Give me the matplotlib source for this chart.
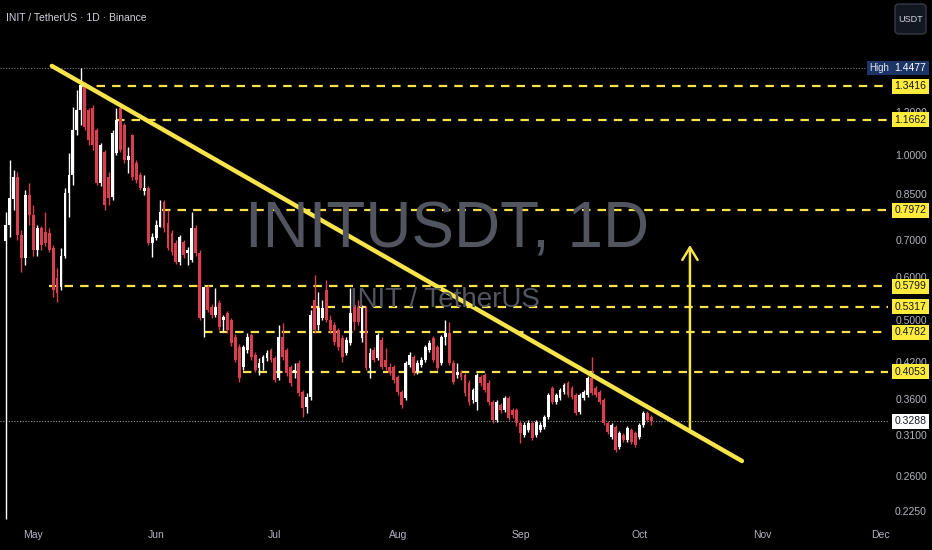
import matplotlib
matplotlib.use("Agg")
import matplotlib.pyplot as plt
import matplotlib.dates as mdates
from matplotlib.patches import Rectangle, FancyBboxPatch
from matplotlib.transforms import IdentityTransform
import numpy as np
import pandas as pd

# daily candles INIT/USDT, first candle on this date
START = "2025-04-24"

opens = [0.700, 0.749, 0.835, 0.917, 0.719, 0.653, 0.850, 0.782, 0.675, 0.740,
         0.728, 0.725, 0.680, 0.600, 0.578, 0.658, 0.857, 0.924, 1.116, 1.214,
         1.348, 1.214, 1.224, 1.116, 0.894, 1.018, 0.917, 0.843, 1.013, 1.224,
         1.140, 0.984, 1.093, 0.972, 0.924, 0.864, 0.875, 0.695, 0.710, 0.743,
         0.825, 0.756, 0.725, 0.695, 0.642, 0.698, 0.666, 0.647, 0.740, 0.666,
         0.5075, 0.578, 0.5315, 0.514, 0.541, 0.503, 0.518, 0.503, 0.4685, 0.449,
         0.4132, 0.444, 0.4725, 0.4345, 0.4115, 0.420, 0.429, 0.4437, 0.429, 0.3945,
         0.4685, 0.4437, 0.413, 0.403, 0.420, 0.372, 0.3494, 0.364, 0.547, 0.4927,
         0.5075, 0.571, 0.503, 0.4927, 0.4825, 0.4665, 0.438, 0.457, 0.536, 0.529,
         0.4665, 0.529, 0.4115, 0.4437, 0.429, 0.4627, 0.425, 0.4132, 0.4132, 0.396,
         0.372, 0.3628, 0.4167, 0.431, 0.4046, 0.4167, 0.4255, 0.4437, 0.4665, 0.449,
         0.420, 0.4685, 0.4765, 0.420, 0.3996, 0.403, 0.3996, 0.3865, 0.3598, 0.3568,
         0.396, 0.3996, 0.3865, 0.3568, 0.3308, 0.3523, 0.345, 0.3628, 0.345, 0.345,
         0.3267, 0.3107, 0.3173, 0.3267, 0.3107, 0.3173, 0.3213, 0.3351, 0.3785, 0.3568,
         0.3628, 0.372, 0.3865, 0.3785, 0.3674, 0.3421, 0.3628, 0.3674, 0.3945, 0.3785,
         0.372, 0.3598, 0.3267, 0.3081, 0.3213, 0.2955, 0.3107, 0.3043, 0.3173, 0.3134,
         0.3081, 0.324, 0.3407, 0.3351]

highs = [0.791, 0.984, 0.944, 0.936, 0.734, 0.868, 0.894, 0.815, 0.749, 0.746,
         0.791, 0.740, 0.689, 0.626, 0.680, 0.875, 1.013, 1.229, 1.320, 1.4477,
         1.365, 1.224, 1.2395, 1.126, 1.057, 1.026, 0.936, 1.116, 1.224, 1.234,
         1.149, 1.040, 1.098, 0.984, 0.936, 0.924, 0.882, 0.725, 0.765, 0.832,
         0.832, 0.798, 0.734, 0.704, 0.719, 0.704, 0.683, 0.791, 0.749, 0.675,
         0.578, 0.583, 0.538, 0.5755, 0.547, 0.514, 0.5225, 0.5075, 0.4745, 0.455,
         0.453, 0.4765, 0.4765, 0.440, 0.429, 0.4345, 0.4437, 0.4474, 0.433, 0.4927,
         0.497, 0.4474, 0.4167, 0.420, 0.4255, 0.375, 0.3705, 0.525, 0.608, 0.566,
         0.547, 0.595, 0.514, 0.499, 0.4866, 0.4725, 0.4685, 0.5755, 0.540, 0.547,
         0.536, 0.5336, 0.4474, 0.449, 0.4765, 0.4685, 0.4474, 0.420, 0.4167, 0.3996,
         0.375, 0.4237, 0.440, 0.4345, 0.4255, 0.431, 0.4531, 0.4627, 0.4705, 0.4531,
         0.4725, 0.503, 0.499, 0.4255, 0.420, 0.408, 0.403, 0.3913, 0.3785, 0.403,
         0.3996, 0.403, 0.3913, 0.3598, 0.3598, 0.3553, 0.3659, 0.3659, 0.348, 0.348,
         0.3308, 0.3281, 0.3308, 0.3294, 0.3308, 0.3281, 0.3379, 0.3705, 0.3816, 0.3705,
         0.3785, 0.3865, 0.3897, 0.3816, 0.3705, 0.3705, 0.3752, 0.398, 0.431, 0.3816,
         0.3752, 0.3628, 0.3294, 0.3267, 0.324, 0.316, 0.3134, 0.3226, 0.320, 0.316,
         0.3267, 0.3436, 0.3436, 0.3379]

lows = [0.218, 0.713, 0.798, 0.704, 0.615, 0.634, 0.749, 0.658, 0.658, 0.675,
        0.686, 0.669, 0.554, 0.543, 0.571, 0.653, 0.775, 0.886, 1.093, 1.140,
        1.116, 1.048, 1.026, 0.886, 0.883, 0.798, 0.815, 0.832, 1.005, 1.018,
        0.972, 0.932, 0.905, 0.894, 0.868, 0.850, 0.689, 0.655, 0.704, 0.743,
        0.728, 0.675, 0.661, 0.637, 0.634, 0.653, 0.634, 0.642, 0.658, 0.503,
        0.4685, 0.520, 0.5075, 0.5096, 0.4825, 0.4785, 0.4765, 0.451, 0.422, 0.388,
        0.408, 0.438, 0.4255, 0.4046, 0.3996, 0.408, 0.4237, 0.422, 0.388, 0.391,
        0.4255, 0.398, 0.3816, 0.3945, 0.3659, 0.3351, 0.3407, 0.360, 0.4765, 0.4825,
        0.503, 0.499, 0.4765, 0.453, 0.4437, 0.422, 0.4345, 0.453, 0.4825, 0.4927,
        0.459, 0.408, 0.3945, 0.422, 0.4255, 0.4097, 0.408, 0.3996, 0.3865, 0.3674,
        0.348, 0.3598, 0.4132, 0.3996, 0.4013, 0.4132, 0.422, 0.440, 0.422, 0.408,
        0.4167, 0.4531, 0.4167, 0.3848, 0.3945, 0.391, 0.3659, 0.3523, 0.3553, 0.345,
        0.3816, 0.372, 0.3523, 0.3267, 0.3281, 0.3407, 0.3421, 0.3308, 0.3337, 0.3226,
        0.3005, 0.3081, 0.3147, 0.3043, 0.3081, 0.3147, 0.3186, 0.3323, 0.3538, 0.3538,
        0.3598, 0.369, 0.3644, 0.3613, 0.3379, 0.3393, 0.3598, 0.3644, 0.3674, 0.3644,
        0.3538, 0.324, 0.312, 0.3056, 0.2894, 0.293, 0.3018, 0.3018, 0.2992, 0.2955,
        0.3056, 0.3213, 0.3281, 0.324]

closes = [0.749, 0.839, 0.917, 0.719, 0.653, 0.850, 0.782, 0.675, 0.740, 0.689,
          0.695, 0.675, 0.571, 0.563, 0.658, 0.857, 0.924, 1.116, 1.214, 1.348,
          1.130, 1.070, 1.048, 0.894, 1.048, 0.815, 0.839, 1.102, 1.164, 1.026,
          0.984, 1.001, 0.917, 0.905, 0.875, 0.875, 0.695, 0.713, 0.749, 0.791,
          0.740, 0.680, 0.669, 0.642, 0.713, 0.661, 0.675, 0.740, 0.666, 0.5075,
          0.578, 0.525, 0.514, 0.531, 0.4885, 0.5096, 0.4825, 0.457, 0.4255, 0.3945,
          0.449, 0.4685, 0.431, 0.408, 0.420, 0.431, 0.438, 0.4255, 0.391, 0.4685,
          0.431, 0.403, 0.3865, 0.408, 0.3705, 0.348, 0.364, 0.514, 0.4825, 0.529,
          0.529, 0.503, 0.4825, 0.459, 0.449, 0.431, 0.4627, 0.518, 0.499, 0.499,
          0.529, 0.4115, 0.438, 0.4255, 0.4725, 0.4132, 0.4132, 0.403, 0.391, 0.372,
          0.3523, 0.420, 0.4345, 0.403, 0.420, 0.4255, 0.449, 0.457, 0.4255, 0.4115,
          0.4685, 0.4765, 0.420, 0.388, 0.4046, 0.396, 0.3705, 0.3568, 0.3752, 0.3996,
          0.3865, 0.3752, 0.3568, 0.3308, 0.3568, 0.345, 0.3628, 0.3337, 0.3379, 0.3267,
          0.3134, 0.324, 0.3267, 0.3068, 0.3281, 0.324, 0.3351, 0.3674, 0.3568, 0.3674,
          0.3752, 0.3832, 0.3674, 0.3644, 0.3407, 0.3674, 0.372, 0.3945, 0.3705, 0.3674,
          0.3568, 0.3267, 0.3147, 0.324, 0.2918, 0.3134, 0.3043, 0.320, 0.3018, 0.2979,
          0.324, 0.3407, 0.3308, 0.3288]

# horizontal levels and the day each dashed line starts
levels = [1.3416, 1.1662, 0.7972, 0.5799, 0.5317, 0.4782, 0.4053]
level_starts = ["2025-05-13", "2025-05-22", "2025-06-02 12:00", "2025-05-05",
                "2025-07-10", "2025-06-13", "2025-06-23"]

# descending trendline (two anchor points) and breakout arrow
trend_dates = ["2025-05-05 16:00", "2025-10-26 22:00"]
trend_prices = [1.46, 0.2786]
arrow_date = "2025-10-13 19:00"
arrow_prices = [0.3173, 0.689]

high_price = 1.4477
last_price = 0.3288
price_ticks = [1.2, 1.0, 0.85, 0.7, 0.6, 0.5, 0.42, 0.36, 0.31, 0.26, 0.225]
months = ["May", "Jun", "Jul", "Aug", "Sep", "Oct", "Nov", "Dec"]
month_dates = ["2025-05-01", "2025-06-01", "2025-07-01", "2025-08-01",
               "2025-09-01", "2025-10-01", "2025-11-01", "2025-12-01"]

UP = "#ffffff"
DOWN = "#d8404f"
YEL = "#f7e34a"
BOX_YEL = "#ffeb3b"
AXIS_TXT = "#b2b5be"
FONT = ["Liberation Sans", "DejaVu Sans"]

fig = plt.figure(figsize=(9.32, 5.5), dpi=100, facecolor="black")
ax = fig.add_axes([0, 28 / 550, 888 / 932, 522 / 550])
ax.set_facecolor("black")
ax.set_yscale("log")

x = mdates.date2num(pd.date_range(START, periods=len(closes), freq="D"))
ax.set_xlim(x[0] - 1.41, x[0] + 222.8)
ax.set_ylim(0.2157, 1.925)
ax.axis("off")

# watermark
fig.text(447 / 932, 1 - 231 / 550, "INITUSDT, 1D", ha="center", va="center",
         fontsize=46, color="#52555f", family=FONT, zorder=0.5)
fig.text(445 / 932, 1 - 300 / 550, "INIT / TetherUS", ha="center", va="center",
         fontsize=20, color="#52555f", family=FONT, zorder=0.5)

# candles
o, h, l, c = map(np.array, (opens, highs, lows, closes))
cols = np.where(c >= o, UP, DOWN)
ax.vlines(x, l, h, colors=cols, lw=1.0, zorder=3)
ax.bar(x, np.abs(c - o), bottom=np.minimum(o, c), width=0.72, color=cols,
       lw=0, zorder=3)

# levels
xmax = ax.get_xlim()[1]
for lvl, d in zip(levels, level_starts):
    ax.plot([mdates.datestr2num(d), xmax], [lvl, lvl], color=YEL, lw=1.6,
            ls=(0, (3.8, 3.2)), zorder=2)

ax.axhline(high_price, xmax=868 / 888, color="#787b86", lw=0.8, ls=(0, (1, 1.5)), zorder=1)
ax.axhline(last_price, color="#9598a1", lw=0.8, ls=(0, (1, 1.5)), zorder=1)

# trendline + arrow
ax.plot(mdates.datestr2num(trend_dates), trend_prices, color=YEL, lw=3.2,
        solid_capstyle="round", zorder=4)
ax_x = mdates.datestr2num(arrow_date)
ax.annotate("", xy=(ax_x, arrow_prices[1]), xytext=(ax_x, arrow_prices[0]),
            arrowprops=dict(arrowstyle="->,head_length=0.9,head_width=0.55",
                            color=YEL, lw=1.8, shrinkA=0, shrinkB=0), zorder=4)


def ypix(p):
    return ax.transData.transform((x[0], p))[1]


def xpix(d):
    return ax.transData.transform((mdates.datestr2num(d), 1.0))[0]


ident = IdentityTransform()

# price axis labels (some sit partly behind the level boxes, as in TradingView)
for p in price_ticks:
    fig.text(911, ypix(p), f"{p:.4f}", transform=ident, ha="center", va="center",
             fontsize=7.5, color=AXIS_TXT, family=FONT, zorder=1)

for lvl in levels:
    yp = ypix(lvl)
    fig.add_artist(Rectangle((892, yp - 7.5), 37, 15, transform=ident,
                             facecolor=BOX_YEL, edgecolor="none", zorder=2))
    fig.text(910.5, yp, f"{lvl:.4f}", transform=ident, ha="center", va="center",
             fontsize=7.5, color="#131722", family=FONT, zorder=3)

yp = ypix(high_price)
fig.add_artist(Rectangle((867, yp - 7), 25, 14, transform=ident,
                         facecolor="#1c3566", edgecolor="none", zorder=2))
fig.add_artist(Rectangle((892, yp - 7), 37, 14, transform=ident,
                         facecolor="#1c3566", edgecolor="none", zorder=2))
fig.text(879.5, yp, "High", transform=ident, ha="center", va="center",
         fontsize=7, color="#e0e3eb", family=FONT, zorder=3)
fig.text(910.5, yp, f"{high_price:.4f}", transform=ident, ha="center", va="center",
         fontsize=7.5, color="#ffffff", family=FONT, zorder=3)

yp = ypix(last_price)
fig.add_artist(Rectangle((892, yp - 7.5), 37, 15, transform=ident,
                         facecolor="#ffffff", edgecolor="none", zorder=2))
fig.text(910.5, yp, f"{last_price:.4f}", transform=ident, ha="center", va="center",
         fontsize=7.5, color="#131722", family=FONT, zorder=3)

# month labels
for m, d in zip(months, month_dates):
    fig.text(xpix(d), 15, m, transform=ident, ha="center", va="center",
             fontsize=7.5, color=AXIS_TXT, family=FONT)

# header
fig.text(6, 532, "INIT / TetherUS · 1D · Binance", transform=ident, ha="left",
         va="center", fontsize=7.5, color="#d1d4dc", family=FONT)
fig.add_artist(FancyBboxPatch((895, 516), 31, 30, boxstyle="round,pad=0,rounding_size=4",
                              transform=ident, facecolor="#131722",
                              edgecolor="#363a45", lw=1))
fig.text(910.5, 531, "USDT", transform=ident, ha="center", va="center",
         fontsize=6.5, color="#d1d4dc", family=FONT)

fig.savefig("out.png", dpi=100, facecolor="black")
